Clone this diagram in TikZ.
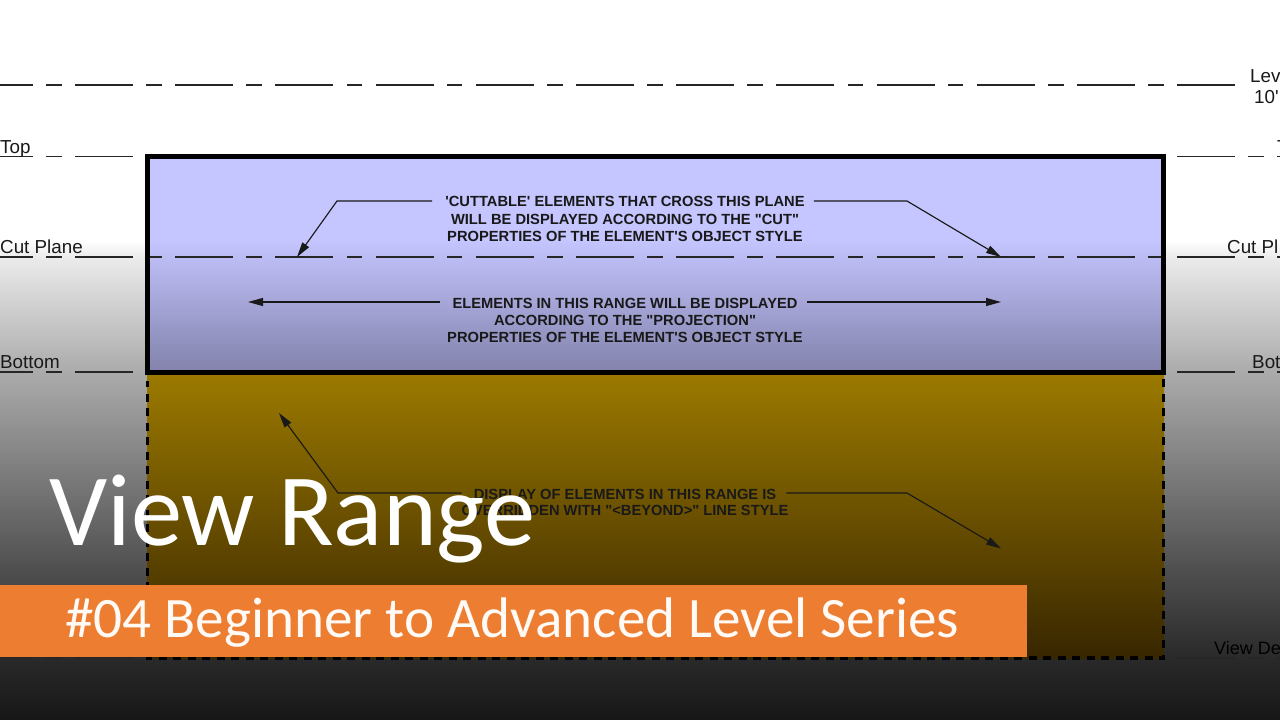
\documentclass[tikz,border=0pt]{standalone}
\usepackage{fontspec}
\newfontfamily\labelfont{Liberation Sans}
\newfontfamily\titlefont{Carlito}
\usetikzlibrary{arrows.meta}
\definecolor{bannerorange}{HTML}{ED7D31}
\tikzset{
  x=1pt,y=-1pt,
  levelline/.style={line width=1.1pt,draw=black!85,dash pattern=on 58pt off 13.2pt on 15.5pt off 13.5pt},
  leader/.style={line width=1.15pt,draw=black!90},
  arrowed/.style={leader,-{Triangle[length=15pt,width=8pt]}},
  notetext/.style={font=\labelfont\fontsize{14.7}{16}\selectfont\bfseries,text=black!90,inner sep=0pt,anchor=center},
  levellabel/.style={font=\labelfont\fontsize{18.8}{20}\selectfont,text=black!90,inner sep=0pt,anchor=base west},
}
\begin{document}
\begin{tikzpicture}
\useasboundingbox (0,0) rectangle (1280,720);
\clip (0,0) rectangle (1280,720);
% background
\fill[white] (0,0) rectangle (1280,240);
\shade[top color=white,bottom color=white!92!black] (0,240) rectangle (1280,258);
\shade[top color=white!92!black,bottom color=black!33] (0,258) rectangle (1280,372);
\shade[top color=black!33,bottom color=black!69] (0,372) rectangle (1280,570);
\shade[top color=black!69,bottom color=black!84] (0,570) rectangle (1280,660);
\shade[top color=black!84,bottom color=black!91] (0,660) rectangle (1280,720);
% range fills
\fill[fill={rgb,255:red,197;green,197;blue,255}] (147,156) rectangle (1164,240);
\shade[top color={rgb,255:red,197;green,197;blue,255},bottom color={rgb,255:red,130;green,130;blue,172}] (147,240) rectangle (1164,372);
\shade[top color={rgb,255:red,156;green,122;blue,0},bottom color={rgb,255:red,56;green,38;blue,0}] (147,372) rectangle (1164,658);
% level lines
\draw[levelline] (-25.2,85) -- (1236,85);
\draw[levelline] (-25.2,156.5) -- (133,156.5);
\draw[levelline] (1177,156.5) -- (1280,156.5);
\draw[levelline] (-25.2,257) -- (1280,257);
\draw[levelline] (-25.2,372) -- (133,372);
\draw[levelline] (1177,372) -- (1280,372);
\draw[levelline] (-25.2,658) -- (133,658);
\draw[levelline] (1177,658) -- (1280,658);
% frames
\draw[line width=3.5pt,draw=black,dash pattern=on 8pt off 6.5pt,dash phase=2pt] (147.5,381) -- (147.5,658) -- (1163.5,658) -- (1163.5,376);
\draw[line width=5pt,draw=black] (147.5,156.5) rectangle (1163.5,372);
% level labels
\node[levellabel] (topL) at (0,153) {Top};
\node[levellabel] (cutL) at (0,253.5) {Cut Plane};
\node[levellabel] (botL) at (0,368.5) {Bottom};
\node[levellabel] (levR) at (1250,82) {Lev};
\node[levellabel] (tenR) at (1254,103) {10'};
\node[levellabel] (topR) at (1277,153) {T};
\node[levellabel] (cutR) at (1227,253.5) {Cut Pl};
\node[levellabel] (botR) at (1252,368.5) {Bot};
\node[levellabel,text=black,font=\labelfont\fontsize{18}{20}\selectfont] (depR) at (1214,654.5) {View De};
% notes
\node[notetext] (cutA) at (625,201.5) {'CUTTABLE' ELEMENTS THAT CROSS THIS PLANE};
\node[notetext] (cutB) at (625,219) {WILL BE DISPLAYED ACCORDING TO THE "CUT"};
\node[notetext] (cutC) at (625,236.5) {PROPERTIES OF THE ELEMENT'S OBJECT STYLE};
\node[notetext] (proA) at (625,303) {ELEMENTS IN THIS RANGE WILL BE DISPLAYED};
\node[notetext] (proB) at (625,320) {ACCORDING TO THE "PROJECTION"};
\node[notetext] (proC) at (625,337.5) {PROPERTIES OF THE ELEMENT'S OBJECT STYLE};
\node[notetext] (depA) at (625,494) {DISPLAY OF ELEMENTS IN THIS RANGE IS};
\node[notetext] (depB) at (625,510.5) {OVERRIDDEN WITH "<BEYOND>" LINE STYLE};
% leaders
\coordinate (kinkA) at (337,201);
\coordinate (tipA) at (297,257);
\coordinate (kinkB) at (907,201);
\coordinate (tipB) at (1001,257);
\coordinate (tipC) at (248,302);
\coordinate (tipD) at (1001,302);
\coordinate (kinkE) at (338,493);
\coordinate (tipE) at (279,413);
\coordinate (kinkF) at (907,493);
\coordinate (tipF) at (1001,548.5);
\draw[arrowed] ([xshift=-13pt,yshift=0.5pt]cutA.west) -- (kinkA) -- (tipA);
\draw[arrowed] ([xshift=9pt,yshift=0.5pt]cutA.east) -- (kinkB) -- (tipB);
\draw[arrowed] ([xshift=-12pt,yshift=1pt]proA.west) -- (tipC);
\draw[arrowed] ([xshift=9pt,yshift=1pt]proA.east) -- (tipD);
\draw[arrowed] ([xshift=-12pt,yshift=1pt]depA.west) -- (kinkE) -- (tipE);
\draw[arrowed] ([xshift=10pt,yshift=1pt]depA.east) -- (kinkF) -- (tipF);
% banner and titles
\fill[bannerorange] (0,585) rectangle (1027,657);
\node[font=\titlefont\fontsize{102.5}{110}\selectfont,text=white,inner sep=0pt,anchor=base west] (title) at (49.5,545) {View Range};
\node[font=\titlefont\fontsize{57.2}{60}\selectfont,text=white!96!orange,inner sep=0pt,anchor=base west] (subtitle) at (65,637) {\#04 Beginner to Advanced Level Series};
\end{tikzpicture}
\end{document}
